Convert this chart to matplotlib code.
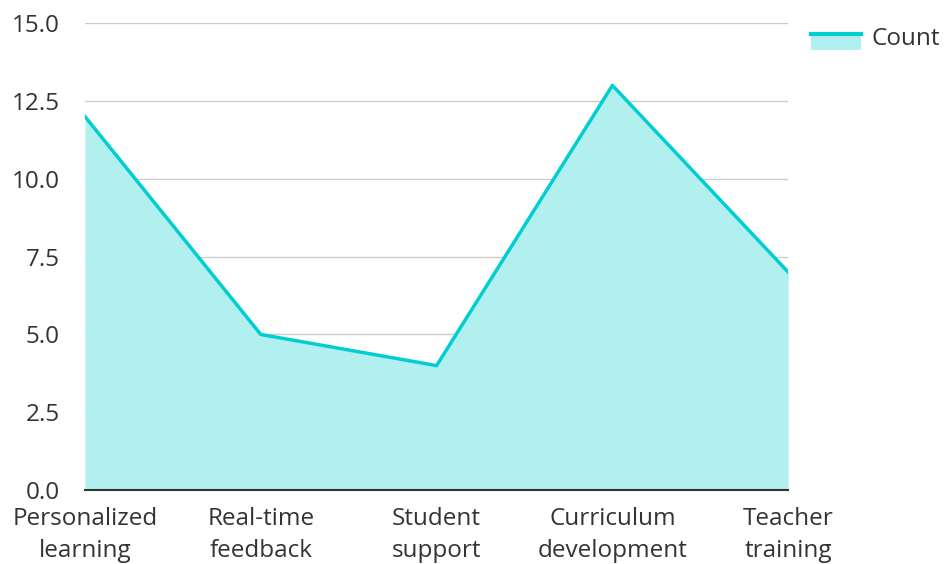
import matplotlib
matplotlib.use("Agg")
import matplotlib.pyplot as plt
from matplotlib.legend_handler import HandlerBase
from matplotlib.patches import Rectangle
from matplotlib.lines import Line2D

plt.rcParams['font.family'] = ['Open Sans', 'DejaVu Sans']

categories = ["Personalized\nlearning", "Real-time\nfeedback", "Student\nsupport",
              "Curriculum\ndevelopment", "Teacher\ntraining"]
counts = [12, 5, 4, 13, 7]
series_name = "Count"
yticks = [0.0, 2.5, 5.0, 7.5, 10.0, 12.5, 15.0]

line_color = "#00CED1"
fill_color = "#B2EFEF"
text_color = "#333333"
fs = 17.5

fig = plt.figure(figsize=(9.44, 5.64), dpi=100)
ax = fig.add_axes([0.090, 0.131, 0.745, 0.828])

x = list(range(len(categories)))
ax.fill_between(x, counts, 0, color=fill_color, linewidth=0, zorder=2)
ax.plot(x, counts, color=line_color, linewidth=2.5, zorder=3)

ax.set_xlim(0, len(categories) - 1)
ax.set_ylim(0, 15)
ax.set_yticks(yticks)
ax.set_yticklabels([f"{v:.1f}" for v in yticks])
ax.set_xticks(x)
ax.set_xticklabels(categories, linespacing=1.48)

ax.grid(axis='y', color='#CCCCCC', linewidth=1, zorder=1)
ax.grid(axis='x', visible=False)
for s in ['top', 'right', 'left']:
    ax.spines[s].set_visible(False)
ax.spines['bottom'].set_color('#333333')
ax.spines['bottom'].set_linewidth(1.5)
ax.spines['bottom'].set_zorder(4)
ax.tick_params(axis='both', length=0, labelsize=fs, colors=text_color)
ax.tick_params(axis='y', pad=18)
ax.tick_params(axis='x', pad=12)


class AreaHandler(HandlerBase):
    def create_artists(self, legend, orig_handle, xdescent, ydescent, width, height, fontsize, trans):
        top = -ydescent + height - 4
        r = Rectangle((-xdescent, top - 11), width, 11, facecolor=fill_color,
                      edgecolor='none', transform=trans)
        l = Line2D([-xdescent, -xdescent + width], [top, top],
                   color=line_color, linewidth=3, transform=trans)
        return [r, l]


proxy = Rectangle((0, 0), 1, 1)
leg = fig.legend([proxy], [series_name], handler_map={Rectangle: AreaHandler()},
                 loc='upper left', bbox_to_anchor=(0.859, 0.952), frameon=False,
                 fontsize=fs, handlelength=2.05, handleheight=0.6, handletextpad=0.45,
                 borderaxespad=0, borderpad=0)
for t in leg.get_texts():
    t.set_color(text_color)

fig.savefig("out.png", dpi=100)
